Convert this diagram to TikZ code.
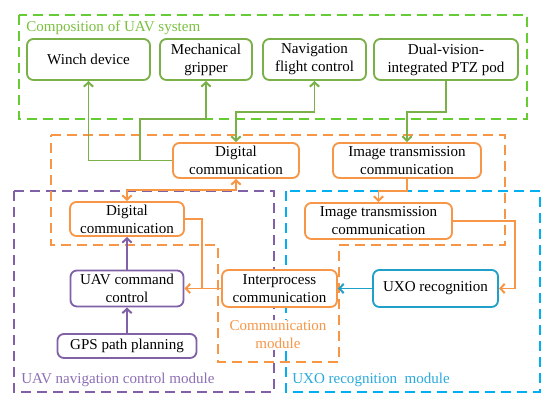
\documentclass[tikz,border=0pt]{standalone}
\usepackage{fontspec}
\setmainfont{Liberation Serif}
\usepackage{tikz}
\usetikzlibrary{arrows.meta}
\usepackage{xcolor}
\definecolor{gdash}{RGB}{102,204,51}
\definecolor{gtext}{RGB}{122,192,62}
\definecolor{gnode}{RGB}{122,176,72}
\definecolor{onode}{RGB}{247,150,70}
\definecolor{pnode}{RGB}{128,96,166}
\definecolor{ptext}{RGB}{140,110,180}
\definecolor{bdash}{RGB}{0,176,240}
\definecolor{bnode}{RGB}{31,160,200}
\definecolor{btext}{RGB}{40,170,220}

\tikzset{
	modbox/.style={dash pattern=on 2.4mm off 1.6mm, line width=1.3pt},
	unit/.style={rounded corners=1.6mm, line width=1.3pt, fill=white, align=center, inner sep=1pt},
	gunit/.style={unit, draw=gnode},
	ounit/.style={unit, draw=onode},
	punit/.style={unit, draw=pnode},
	bunit/.style={unit, draw=bnode},
	link/.style={line width=1.4pt},
	>={Straight Barb[length=1.1mm, width=2.3mm]}
}

\begin{document}
\begin{tikzpicture}[x=0.25mm, y=-0.25mm, font=\fontsize{10.7}{12.8}\selectfont]
		\useasboundingbox (0,0) rectangle (550,404);
		% module frames
		\draw[modbox, gdash] (19,15) rectangle (527,119);
		\draw[modbox, pnode] (14,191) rectangle (274,392);
		\draw[modbox, bdash] (286,191) rectangle (540,392);
		\draw[modbox, onode] (51,135) -- (505,135) -- (505,245) -- (339,245) -- (339,362) -- (218,362) -- (218,245) -- (51,245) -- cycle;
		\node[anchor=west, text=gtext, inner sep=0pt] (tuav) at (26,28) {Composition of UAV system};
		\node[anchor=west, text=ptext, inner sep=0pt] (tnav) at (21,380) {UAV navigation control module};
		\node[anchor=west, text=btext, inner sep=0pt] (tuxo) at (292,380) {UXO recognition~ module};
		\node[align=center, text=onode, fill=white, inner sep=1pt] (tcom) at (278,335) {Communication\\module};

		% units
		\node[gunit, minimum width=30.75mm, minimum height=10.25mm] (winch) at (88.5,59.5) {Winch device};
		\node[gunit, minimum width=23mm, minimum height=10.25mm] (grip) at (206,59.5) {Mechanical\\gripper};
		\node[gunit, minimum width=25.75mm, minimum height=10.25mm] (nav) at (314.5,59.5) {Navigation\\flight control};
		\node[gunit, minimum width=36mm, minimum height=10.25mm] (ptz) at (446,59.5) {Dual-vision-\\integrated PTZ pod};
		\node[ounit, minimum width=31.5mm, minimum height=8.75mm] (dig1) at (236,160.5) {Digital\\communication};
		\node[ounit, minimum width=37mm, minimum height=8.75mm] (img1) at (407,160.5) {Image transmission\\communication};
		\node[ounit, minimum width=28.5mm, minimum height=8.5mm] (dig2) at (127,219) {Digital\\communication};
		\node[ounit, minimum width=36.75mm, minimum height=9mm] (img2) at (378.5,221) {Image transmission\\communication};
		\node[ounit, minimum width=28.75mm, minimum height=9.25mm] (inter) at (279.5,288.5) {Interprocess\\communication};
		\node[bunit, minimum width=31.25mm, minimum height=9.25mm] (uxo) at (435.5,288.5) {UXO recognition};
		\node[punit, minimum width=28.25mm, minimum height=9mm] (cmd) at (127,288.5) {UAV command\\control};
		\node[punit, minimum width=34.75mm, minimum height=6mm] (gps) at (127,346) {GPS path planning};

		% links
		\coordinate (gfork) at (140,160.5);
		\draw[link, gnode, ->] (dig1.west) -| (winch.south);
		\draw[link, gnode, ->] (gfork) -- (140,119) -| (grip.south);
		\draw[link, gnode, <->] (dig1.north) -- (236,112) -| (nav.south);
		\draw[link, gnode, ->] (ptz.south) -- (446,112) -| (img1.north);
		\draw[link, onode, <->] (dig1.south) -- (236,190) -| (dig2.north);
		\draw[link, onode, ->] (img1.south) -- (407,191) -| (img2.north);
		\draw[link, onode] (dig2.east) -| (202,288.5);
		\draw[link, onode, ->] (inter.west) -- (cmd.east);
		\draw[link, onode, ->] (img2.east) -| (515,288.5) -- (uxo.east);
		\draw[link, bnode, ->] (uxo.west) -- (inter.east);
		\draw[link, pnode, ->] (cmd.north) -- (dig2.south);
		\draw[link, pnode, ->] (gps.north) -- (cmd.south);
	\end{tikzpicture}
\end{document}
